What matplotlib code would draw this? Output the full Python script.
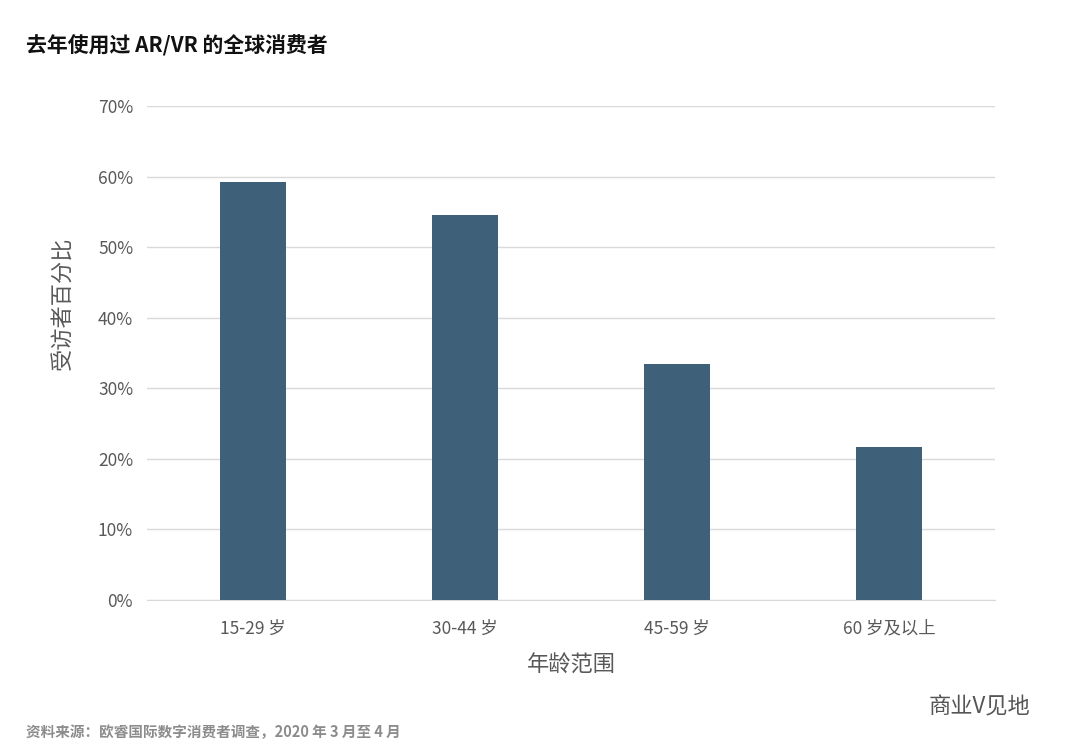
import matplotlib.pyplot as plt

plt.rcParams['font.family'] = ['Noto Sans CJK SC', 'DejaVu Sans']

categories = ["15-29 岁", "30-44 岁", "45-59 岁", "60 岁及以上"]
values = [59.3, 54.5, 33.4, 21.7]
yticks = [0, 10, 20, 30, 40, 50, 60, 70]

fig = plt.figure(figsize=(10.68, 7.54), dpi=100)
ax = fig.add_axes([147 / 1068, 1 - 600 / 754, 848 / 1068, 494 / 754])

x = range(len(categories))
ax.bar(x, values, width=0.31, color="#3e6079", zorder=3)
ax.set_xlim(-0.5, len(categories) - 0.5)
ax.set_ylim(0, 70)
ax.set_yticks(yticks)
ax.set_yticklabels([f"{t}%" for t in yticks])
ax.set_xticks(list(x))
ax.set_xticklabels(categories)
ax.grid(axis="y", color="#d9d9d9", linewidth=1, zorder=0)
for s in ["top", "right", "left"]:
    ax.spines[s].set_visible(False)
ax.spines["bottom"].set_color("#d9d9d9")
ax.tick_params(length=0, labelsize=12.5, colors="#595959", pad=10)
ax.tick_params(axis="x", pad=14)
ax.set_ylabel("受访者百分比", fontsize=16, color="#595959")
ax.yaxis.set_label_coords(-0.085, 0.6)
ax.set_xlabel("年龄范围", fontsize=16, color="#595959", labelpad=12)

fig.text(26 / 1068, 1 - 46 / 754, "去年使用过 AR/VR 的全球消费者", fontsize=15,
         fontweight="bold", va="center", color="#111111")
fig.text(26 / 1068, 1 - 732 / 754, "资料来源：欧睿国际数字消费者调查，2020 年 3 月至 4 月",
         fontsize=10.5, fontweight="bold", va="center", color="#8c8c8c")
fig.text(1030 / 1068, 1 - 707 / 754, "商业V见地", fontsize=16, ha="right",
         va="center", color="#555555")

fig.savefig("out.png", dpi=100)
